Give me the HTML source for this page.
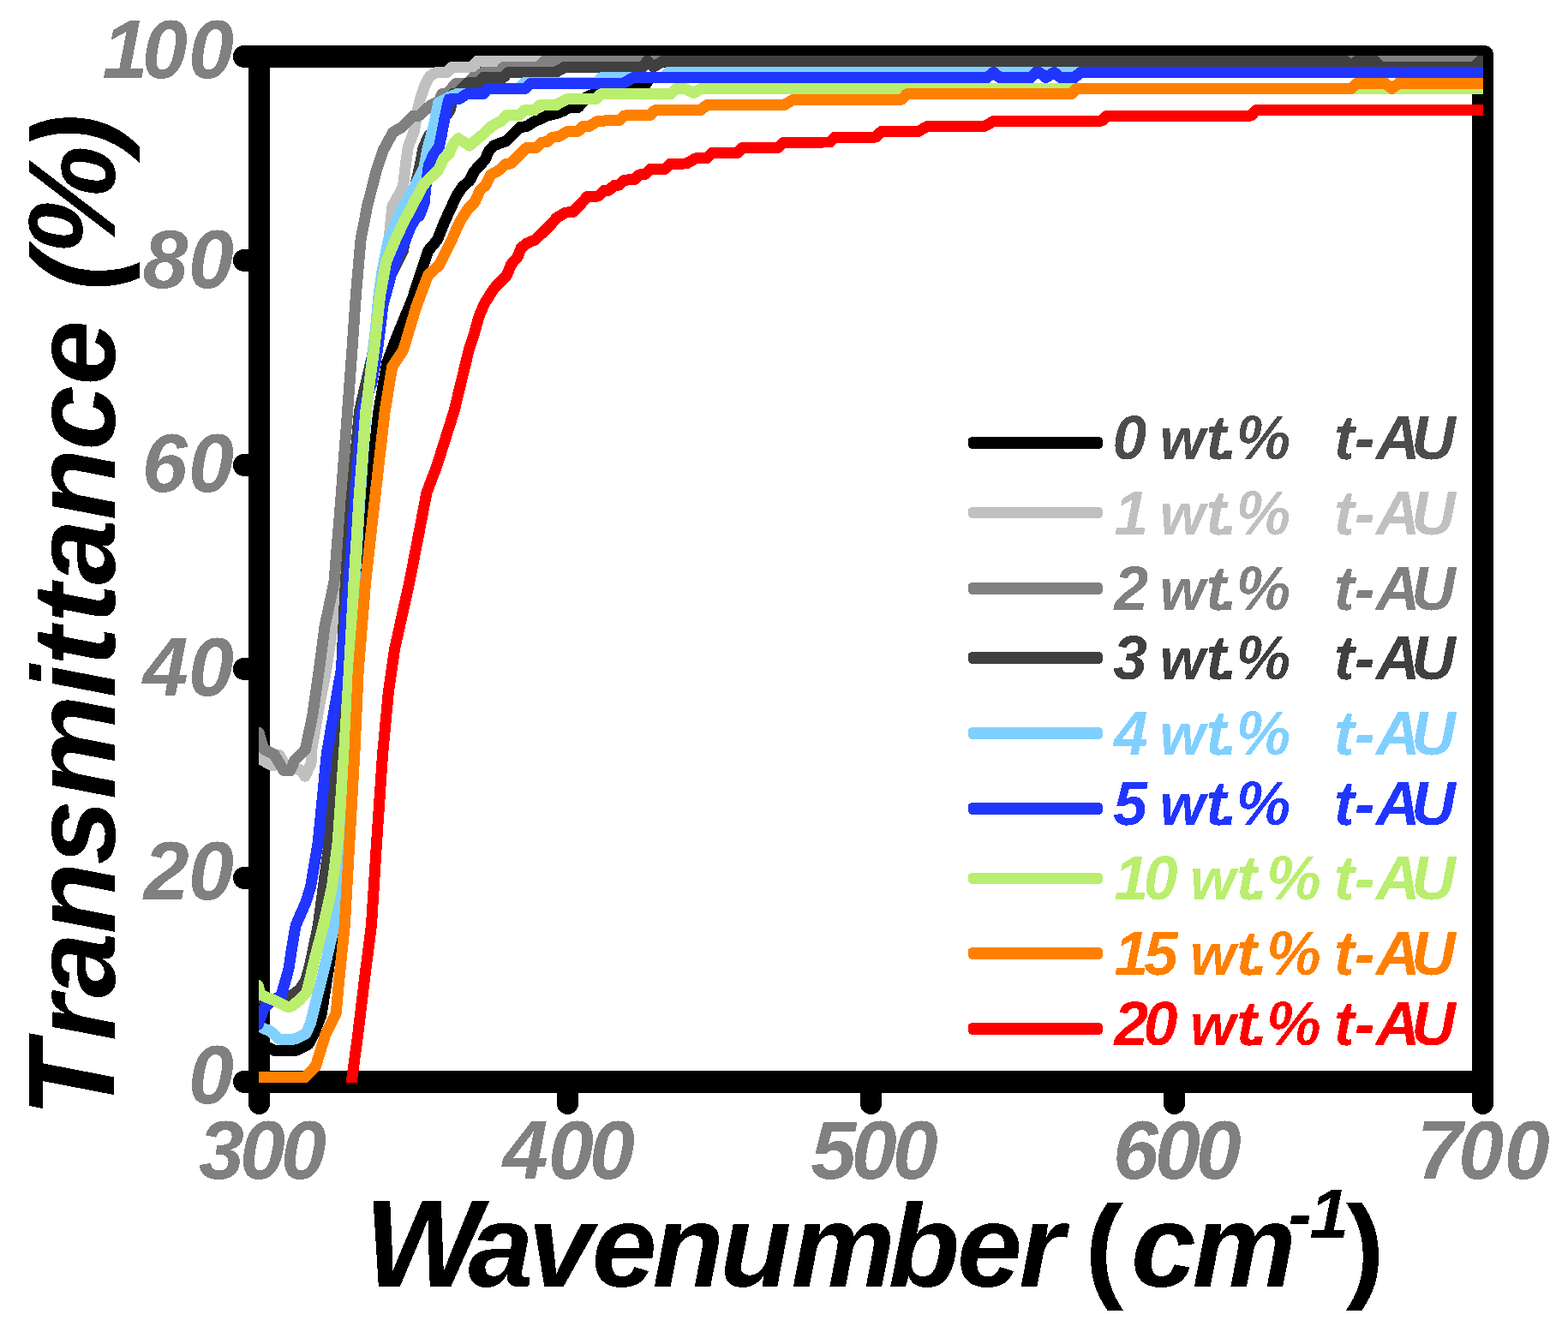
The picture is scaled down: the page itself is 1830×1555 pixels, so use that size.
<!DOCTYPE html>
<html lang="en"><head><meta charset="utf-8"><title>Transmittance vs Wavenumber</title>
<style>html,body{margin:0;padding:0;background:#fff;}svg{display:block;}text{font-family:'Liberation Sans',sans-serif;font-weight:bold;font-style:italic;}</style>
</head><body>
<svg width="1830" height="1555" viewBox="0 0 1830 1555">
<defs><clipPath id="plot"><rect x="302" y="65" width="1429" height="1199"/></clipPath><filter id="hard" filterUnits="userSpaceOnUse" x="0" y="0" width="1830" height="1555" color-interpolation-filters="sRGB"><feComponentTransfer><feFuncA type="discrete" tableValues="0 1"/></feComponentTransfer></filter></defs>
<rect width="1830" height="1555" fill="#fff"/>
<g id="axes" shape-rendering="crispEdges" fill="#000" stroke="#000">
<rect x="290" y="53" width="25" height="1223" stroke="none"/>
<rect x="290" y="1250" width="1453" height="26" stroke="none"/>
<path d="M290 53H1731Q1743 53 1743 65V1276H1718V79H290Z" stroke="none"/>
<line x1="285" y1="66" x2="296" y2="66" stroke-width="26" stroke-linecap="round"/>
<line x1="285" y1="304" x2="296" y2="304" stroke-width="26" stroke-linecap="round"/>
<line x1="285" y1="543" x2="296" y2="543" stroke-width="26" stroke-linecap="round"/>
<line x1="285" y1="781" x2="296" y2="781" stroke-width="26" stroke-linecap="round"/>
<line x1="285" y1="1024.8" x2="296" y2="1024.8" stroke-width="26" stroke-linecap="round"/>
<line x1="285" y1="1262.8" x2="296" y2="1262.8" stroke-width="26" stroke-linecap="round"/>
<line x1="302.5" y1="1263" x2="302.5" y2="1288.5" stroke-width="25" stroke-linecap="round"/>
<line x1="662.4" y1="1263" x2="662.4" y2="1288.5" stroke-width="25" stroke-linecap="round"/>
<line x1="1016.4" y1="1263" x2="1016.4" y2="1288.5" stroke-width="25" stroke-linecap="round"/>
<line x1="1370.5" y1="1263" x2="1370.5" y2="1288.5" stroke-width="25" stroke-linecap="round"/>
<line x1="1730.5" y1="1263" x2="1730.5" y2="1288.5" stroke-width="25" stroke-linecap="round"/>
</g>
<g id="curves" clip-path="url(#plot)" shape-rendering="crispEdges" fill="none" stroke-width="13" stroke-linejoin="round" stroke-linecap="round">
<polyline id="c-black" stroke="#000000" points="301.5,1216 312,1222 320,1226.5 345,1226.5 360,1219 367,1205 375,1185 385.5,1118.6 390,1080 399,980 408,880 414,780 420,680 431,580 441.7,481.3 451.8,423 463,393.4 481.2,349.2 495.5,305.1 499.6,292.9 510.5,280 518.3,260.1 525.4,244.6 532.5,229.2 540.2,217.6 547.9,211.2 553.7,199.6 565.9,186.8 571.1,175.2 576.2,170 586.5,166.2 590.4,165 607.1,148.4 614.6,147.7 623.5,141.8 631.7,138.5 637.8,135.4 650.8,132 658.3,129 663.8,125.8 674.7,125.4 685,113 700,107 730,107 740,100.5 752,100.5 759,90.6 1000,90.6 1006,84.3 1731,84.3"/>
<polyline id="c-lgray" stroke="#c0c0c0" points="301.5,884.5 312.7,891.1 319.1,894 326,881.8 333.6,894.6 351,899 356,906.1 363,891.9 363.5,876.6 373.3,820 380.6,782.9 388.3,731.4 390.9,680 400,600 412,540 422,500 432,440 443,390 447,344 454,280 457.9,240.8 470.5,218.3 473.3,193.2 476.1,172.6 483.6,152 487.7,127.6 490.7,114.7 496.1,99.3 501.6,89 509,84.6 521.6,84.6 527.2,78.6 550.8,78.6 557.7,71 1731,71"/>
<polyline id="c-gray" stroke="#808080" points="302,855.4 307.6,874.4 319.9,880.5 331,899.4 338.6,899.7 343.7,888.1 356.6,874.5 364.9,834.3 372.3,782.9 379,731.4 389.9,680 397.8,582.9 405.6,480 410.9,408.6 415.4,344.3 421,280 428.6,240.8 438.8,200.9 447.3,175.2 458.5,154.6 469.5,148.2 482.3,135.3 488.7,135.3 501.6,123.7 511.9,118.6 516,109.7 522,109.7 526.2,104.1 532.8,97 545.9,97 551.8,90.5 557.7,90.5 563.6,84.5 582,84.5 587.5,78.6 628.6,78.6 635.2,71 1731,71"/>
<polyline id="c-dgray" stroke="#404040" points="301.5,1165 330,1168 335,1166 350,1155 357,1144 362,1125 371.4,1080 384.3,982.9 393.9,880 403.3,680 410.1,582.9 419.5,480 434,417.6 452,330 470.7,291.6 485.5,213.1 490,193.8 493.9,173.2 500.3,158.5 511,146 520,136 525.5,128 527.5,118 528.5,109.6 532.8,109.6 538.7,103.5 545.9,96.8 557.7,96.8 563.9,90.5 587.5,90.5 593.1,84.6 648,84.6 659,78.4 750.5,78.4 755.3,71 762.8,78 774.4,71 1570,71 1576.4,78 1584,71 1604.8,71 1612,78.4 1720,78.4 1728,71 1731,71"/>
<polyline id="c-lblue" stroke="#80d0ff" points="301.5,1197.8 315.7,1204 326,1213 344,1213 356.9,1206.7 362,1195.8 368.5,1170 375.1,1144.3 381.3,1118.6 390.3,1080 395,1034 400,983 402.5,880 408.4,783 414,680 420,583 427.3,480 438.5,383.3 441.7,347.3 445.6,319.2 453.2,280.3 467.3,247.8 483,219.2 495,195.1 498.9,173.9 506.6,145.6 511.8,119.9 525,113 533.4,109.6 565,109.6 571,103.4 605.6,103.4 611.5,96.7 696,96.7 702,90.6 774,90.6 780,84.5 1731,84.5"/>
<polyline id="c-blue" stroke="#2036ff" points="301,1196.5 307.7,1178 317,1168.5 328.2,1162.3 336.9,1131.4 340.8,1105.7 345.2,1080 356.9,1053.6 362.7,1034.3 371.3,982.9 381.3,880 398.1,782.9 407.1,680 414.3,582.9 422.2,480 434,446.6 440.6,408 447,356.1 457.6,316.7 464.9,297.7 473.3,280 479.1,265.2 484.2,256.2 490,251.1 495.2,236.9 496.5,221.5 498.4,208.6 500.3,193.2 506.1,180.3 512.5,171.3 515.1,158.5 518.3,141.7 522.2,122.4 524.1,116 536,115.5 545.2,109.5 563.6,109.5 569.2,103.4 612.8,103.4 620,97 728,97 739,90.6 1152,90.6 1159.5,84.5 1167,90.6 1203,90.6 1209,84.5 1213,84.5 1220.7,90.6 1230.3,84.5 1238,90.6 1254,90.6 1261.5,84.2 1731,84.2"/>
<polyline id="c-green" stroke="#b9ee6e" points="301,1150.2 304.4,1161.4 324.6,1169.8 334,1175 340,1175 350,1167 358,1158 361.4,1144.3 367.4,1118.6 377.6,1080 387.7,1034.3 394.2,982.9 401.5,880 407.4,782.9 413,680 419,582.9 426.8,480 436.6,408.6 443.7,344.3 450.7,305.7 461.5,280 470.7,260.1 483.6,235.6 493.9,216.3 498.4,211.2 511.9,198.3 517.3,185.5 524.1,179 529.3,167.5 535,161.7 547.9,170 564.6,155.9 573.6,147.5 581.4,143 586,140.6 591,134.6 605.7,134.6 611.9,128.9 623.5,128.9 629.6,122.8 648.7,122.8 661,115.9 695.2,115.9 701.3,109.8 782.6,109.8 788.8,103.7 800.4,103.7 809.7,108.5 817.5,103.7 1731,103.4"/>
<polyline id="c-orange" stroke="#ff8000" points="301.5,1257.5 356.2,1257.5 368.5,1244.6 379.6,1208.6 392.2,1182.9 395.7,1144.3 402.3,1080 407.9,982.9 413.8,880 418.2,782.9 426.6,680 437.4,582.9 449.2,480 457.8,427.9 470.7,408.6 486.1,357.2 499.6,321.2 512.5,309.6 527.2,280 535.7,260.7 540,253.3 546.6,243.3 554.3,235.6 559.9,222.8 567.2,215.7 572.3,204.5 582.6,198.6 590.4,191.3 596,191 614.6,172.5 626.2,172.3 632.3,166.1 638.5,165.7 644.6,160.2 651.5,159.7 662.1,153.6 674.7,153.3 680.4,147.5 687.7,147.3 697.9,141.1 722.2,140.8 728.7,135 758.3,134.8 764.6,128.6 818.1,128.4 825,122.5 915.4,122.5 925.6,116.3 1052.4,116.1 1058.4,109.7 1250.8,109.5 1256.6,103.4 1577,103.3 1584,97.1 1616.5,97.1 1624.5,103.3 1632.5,97.1 1731,97.1"/>
<polyline id="c-red" stroke="#ff0000" points="409.3,1270 410.1,1264 417.6,1208.6 425.3,1144.3 433.5,1080 439.6,982.9 446.6,880 453.3,808.6 460.7,757.2 477.8,680 489.1,621.5 498,575 509.7,544.3 530,480 547.2,408.6 553,391.3 556.9,377.1 560.1,366.2 566.2,353.3 572.9,342.4 578.6,334.3 591.4,321.5 596.6,308.6 604.3,299.6 608.2,289.3 614.6,284.2 624.9,279.7 641.6,263.6 649.3,254.6 659.6,248.2 668.6,247.5 677,239.2 685.3,229.5 698.2,229 704.8,222.5 710.2,222.4 717,216.4 722.5,216.1 728.7,210.1 740.3,209.8 746,204 752.6,203.7 758.7,197.5 776.1,197.3 782.6,191.1 801.1,191 811.6,185 824.7,184.7 831.1,178.4 860.7,178.4 866.5,172.5 908.3,172.4 914.7,166.1 968.3,166 974.3,160 1022.3,160 1028.4,153.6 1071.5,153.4 1083,147.3 1149.3,147.3 1160.6,141 1285.9,141 1292,135 1460,135 1466.3,128.4 1731,128.4"/>
</g>
<g id="labels" filter="url(#hard)">
<g id="legend">
<text fill="#4d4d4d"><tspan x="1298.42 1328.42" y="536.2" font-size="71.38">0 </tspan><tspan x="1353.39" y="536.2" font-size="68.26">w</tspan><tspan x="1407.6" y="536.2" font-size="71.38">t</tspan><tspan x="1425.17" y="536.2" font-size="68.26">.</tspan><tspan x="1442.66 1530 1557.1 1580.77 1605.84 1647.22" y="536.2" font-size="71.38">% t-AU</tspan></text>
<text fill="#c0c0c0"><tspan x="1300.51 1330.51" y="623.8" font-size="71.38">1 </tspan><tspan x="1353.39" y="623.8" font-size="68.26">w</tspan><tspan x="1407.6" y="623.8" font-size="71.38">t</tspan><tspan x="1425.17" y="623.8" font-size="68.26">.</tspan><tspan x="1442.66 1530 1557.1 1580.77 1605.84 1647.22" y="623.8" font-size="71.38">% t-AU</tspan></text>
<text fill="#808080"><tspan x="1300.62 1330.62" y="711.5" font-size="71.38">2 </tspan><tspan x="1353.39" y="711.5" font-size="68.26">w</tspan><tspan x="1407.6" y="711.5" font-size="71.38">t</tspan><tspan x="1425.17" y="711.5" font-size="68.26">.</tspan><tspan x="1442.66 1530 1557.1 1580.77 1605.84 1647.22" y="711.5" font-size="71.38">% t-AU</tspan></text>
<text fill="#404040"><tspan x="1299.32 1329.32" y="793.3" font-size="71.38">3 </tspan><tspan x="1353.39" y="793.3" font-size="68.26">w</tspan><tspan x="1407.6" y="793.3" font-size="71.38">t</tspan><tspan x="1425.17" y="793.3" font-size="68.26">.</tspan><tspan x="1442.66 1530 1557.1 1580.77 1605.84 1647.22" y="793.3" font-size="71.38">% t-AU</tspan></text>
<text fill="#80d0ff"><tspan x="1299.9 1329.9" y="880.9" font-size="71.38">4 </tspan><tspan x="1353.39" y="880.9" font-size="68.26">w</tspan><tspan x="1407.6" y="880.9" font-size="71.38">t</tspan><tspan x="1425.17" y="880.9" font-size="68.26">.</tspan><tspan x="1442.66 1530 1557.1 1580.77 1605.84 1647.22" y="880.9" font-size="71.38">% t-AU</tspan></text>
<text fill="#2036ff"><tspan x="1299.18 1329.18" y="962.8" font-size="71.38">5 </tspan><tspan x="1353.39" y="962.8" font-size="68.26">w</tspan><tspan x="1407.6" y="962.8" font-size="71.38">t</tspan><tspan x="1425.17" y="962.8" font-size="68.26">.</tspan><tspan x="1442.66 1530 1557.1 1580.77 1605.84 1647.22" y="962.8" font-size="71.38">% t-AU</tspan></text>
<text fill="#b9ee6e"><tspan x="1300.61 1334.67 1364.67" y="1049.8" font-size="71.38">10 </tspan><tspan x="1389.09" y="1049.8" font-size="68.26">w</tspan><tspan x="1443.3" y="1049.8" font-size="71.38">t</tspan><tspan x="1460.87" y="1049.8" font-size="68.26">.</tspan><tspan x="1478.36 1530 1557.1 1580.77 1605.84 1647.22" y="1049.8" font-size="71.38">% t-AU</tspan></text>
<text fill="#ff8000"><tspan x="1300.61 1335.03 1365.03" y="1137.9" font-size="71.38">15 </tspan><tspan x="1389.09" y="1137.9" font-size="68.26">w</tspan><tspan x="1443.3" y="1137.9" font-size="71.38">t</tspan><tspan x="1460.87" y="1137.9" font-size="68.26">.</tspan><tspan x="1478.36 1530 1557.1 1580.77 1605.84 1647.22" y="1137.9" font-size="71.38">% t-AU</tspan></text>
<text fill="#ff0000"><tspan x="1300.47 1334.67 1364.67" y="1220" font-size="71.38">20 </tspan><tspan x="1389.09" y="1220" font-size="68.26">w</tspan><tspan x="1443.3" y="1220" font-size="71.38">t</tspan><tspan x="1460.87" y="1220" font-size="68.26">.</tspan><tspan x="1478.36 1530 1557.1 1580.77 1605.84 1647.22" y="1220" font-size="71.38">% t-AU</tspan></text>
</g>
<g id="ticklabels" fill="#808080" font-size="95.2">
<text transform="translate(0 90.9) scale(1 1.012)" x="119.5 166.12 220.08" y="0">100</text>
<text transform="translate(0 336.1) scale(1 1.012)" x="166.57 220.08" y="0">80</text>
<text transform="translate(0 573.9) scale(1 1.012)" x="165.71 220.08" y="0">60</text>
<text transform="translate(0 812) scale(1 1.012)" x="166.68 220.08" y="0">40</text>
<text transform="translate(0 1050) scale(1 1.012)" x="167.86 220.08" y="0">20</text>
<text transform="translate(0 1288) scale(1 1.012)" x="220.08" y="0">0</text>
<text transform="translate(0 1375.9) scale(1 1.012)" x="231.94 280.05 328.05" y="0">300</text>
<text transform="translate(0 1375.9) scale(1 1.012)" x="586.63 639.95 688.05" y="0">400</text>
<text transform="translate(0 1375.9) scale(1 1.012)" x="946.3 993.85 1041.75" y="0">500</text>
<text transform="translate(0 1375.9) scale(1 1.012)" x="1299.11 1348.05 1395.85" y="0">600</text>
<text transform="translate(0 1375.9) scale(1 1.012)" x="1653.64 1702.25 1755.85" y="0">700</text>
</g>
<text id="xtitle" fill="#000"><tspan x="425.04" y="1502" font-size="144.04">W</tspan><tspan x="546.38 616.35 690.66 761.58 840.15 923.51 1036.73 1117.11 1189.34 1234.34" y="1502" font-size="136.42">avenumber </tspan><tspan x="1266.33" y="1502" font-size="135" font-style="normal">(</tspan><tspan x="1319.92 1391.61" y="1502" font-size="136.42">cm</tspan><tspan x="1503.51 1528.54" y="1444.9" font-size="82">-1</tspan><tspan x="1570.77" y="1502" font-size="135" font-style="normal">)</tspan></text>
<text id="ytitle" transform="rotate(-90)" fill="#000"><tspan x="-1304.31" y="133.8" font-size="144.04">T</tspan><tspan x="-1215.11 -1164.87 -1090.37 -1009.57 -933.09 -814.38 -777.36 -727.26 -682.52 -607.17 -525.88 -449.89 -379.89 -339.32" y="133.8" font-size="136.42">ransmittance (</tspan><tspan x="-297.42" y="133.8" font-size="144.04">%</tspan><tspan x="-178.57" y="133.8" font-size="136.42">)</tspan></text>
</g>
<g id="legend-lines" shape-rendering="crispEdges" stroke="none">
<rect x="1130" y="510" width="157" height="14" rx="4.5" ry="4.5" fill="#000000"/>
<rect x="1130" y="592" width="157" height="13" rx="4.5" ry="4.5" fill="#c0c0c0"/>
<rect x="1130" y="680" width="157" height="14" rx="4.5" ry="4.5" fill="#808080"/>
<rect x="1130" y="761" width="157" height="14" rx="4.5" ry="4.5" fill="#404040"/>
<rect x="1130" y="849" width="157" height="14" rx="4.5" ry="4.5" fill="#80d0ff"/>
<rect x="1130" y="937" width="157" height="14" rx="4.5" ry="4.5" fill="#2036ff"/>
<rect x="1130" y="1019" width="157" height="13" rx="4.5" ry="4.5" fill="#b9ee6e"/>
<rect x="1130" y="1106" width="157" height="14" rx="4.5" ry="4.5" fill="#ff8000"/>
<rect x="1130" y="1194" width="157" height="14" rx="4.5" ry="4.5" fill="#ff0000"/>
</g>
</svg>
</body></html>
